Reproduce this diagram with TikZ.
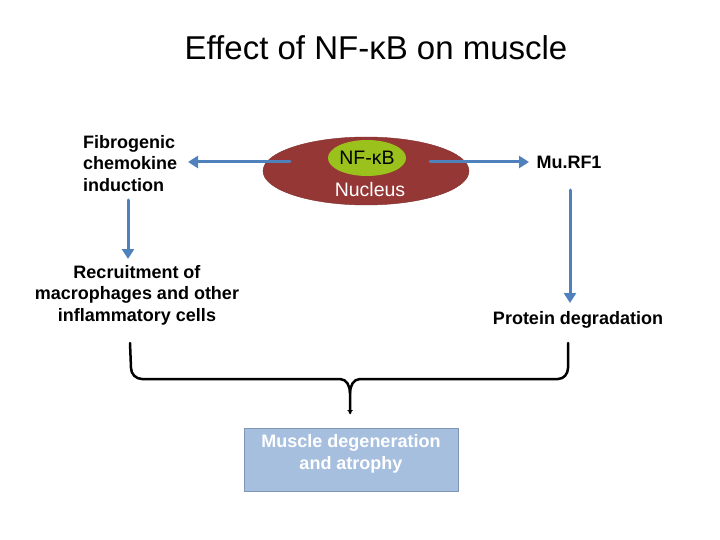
\documentclass[tikz,border=0pt]{standalone}
\usepackage{fontspec}
\setmainfont{Liberation Sans}
\usetikzlibrary{arrows.meta,shapes.geometric}
\definecolor{FigureBlue}{HTML}{4F81BD}
\definecolor{NucleusRed}{HTML}{953735}
\definecolor{KappaGreen}{HTML}{9BC21C}
\definecolor{BoxBlue}{HTML}{A7BFDE}
\definecolor{BoxEdge}{HTML}{7F97B5}
\tikzset{
  lbl/.style={font=\bfseries\fontsize{18}{21.5}\selectfont,inner sep=0pt},
  flow/.style={FigureBlue,line width=3pt,-{Triangle[width=12pt,length=10pt]}},
  brace/.style={black,line width=2.5pt,line cap=round,line join=round}
}

\begin{document}
\begin{tikzpicture}[x=1pt,y=-1pt,line cap=round]
  \useasboundingbox (0,0) rectangle (720,540);
  \node (title) at (376,48) {\fontsize{33}{38}\selectfont Effect of NF-κB on muscle};
  % nucleus with NF-kB inside
  \node[ellipse,draw=NucleusRed!85!black,fill=NucleusRed,minimum width=206,minimum height=68,inner sep=0pt] (nucleus) at (366,171) {};
  \node[ellipse,fill=KappaGreen,minimum width=68,minimum height=36,inner sep=0pt,font=\fontsize{19.5}{22}\selectfont] (nfkb) at (367,158) {NF-κB};
  \node[white,font=\fontsize{19.5}{22}\selectfont] (nuc) at (370,190) {Nucleus};
  % labels
  \node[lbl,anchor=north west,align=left] (fib) at (83,135) {Fibrogenic\\chemokine\\induction};
  \node[lbl,align=center] (recruit) at (137,295) {Recruitment of\\macrophages and other\\inflammatory cells};
  \node[lbl] (murf) at (569,162) {Mu.RF1};
  \node[lbl] (prot) at (578,320) {Protein degradation};
  \node[lbl,white,align=center,fill=BoxBlue,draw=BoxEdge,line width=1pt,minimum width=214,minimum height=63,inner sep=0pt,text depth=15pt] (atrophy) at (351,459.5) {Muscle degeneration\\and atrophy};
  % arrows
  \coordinate (leftstart) at (290,162); \coordinate (leftend) at (188,162);
  \coordinate (rightstart) at (430,162); \coordinate (rightend) at (529,162);
  \draw[flow] (leftstart) -- (leftend);
  \draw[flow] (rightstart) -- (rightend);
  \draw[flow] (128,200) coordinate (fibdown) -- (128,259) coordinate (recup);
  \draw[flow] (570,190) coordinate (murfdown) -- (570,303) coordinate (protup);
  % brace
  \coordinate (tip) at (350,413);
  \draw[brace] (130,343) -- (131,368) to[out=-90,in=180] (142,379) -- (340,379) to[out=0,in=90] (350,393) -- (tip);
  \draw[brace] (350,393) to[out=90,in=180] (360,379) -- (558,379) to[out=0,in=-90] (568,368) -- (568,343);
  \fill (tip) -- ++(-3,-3) -- ++(6,0) -- cycle;
\end{tikzpicture}
\end{document}
